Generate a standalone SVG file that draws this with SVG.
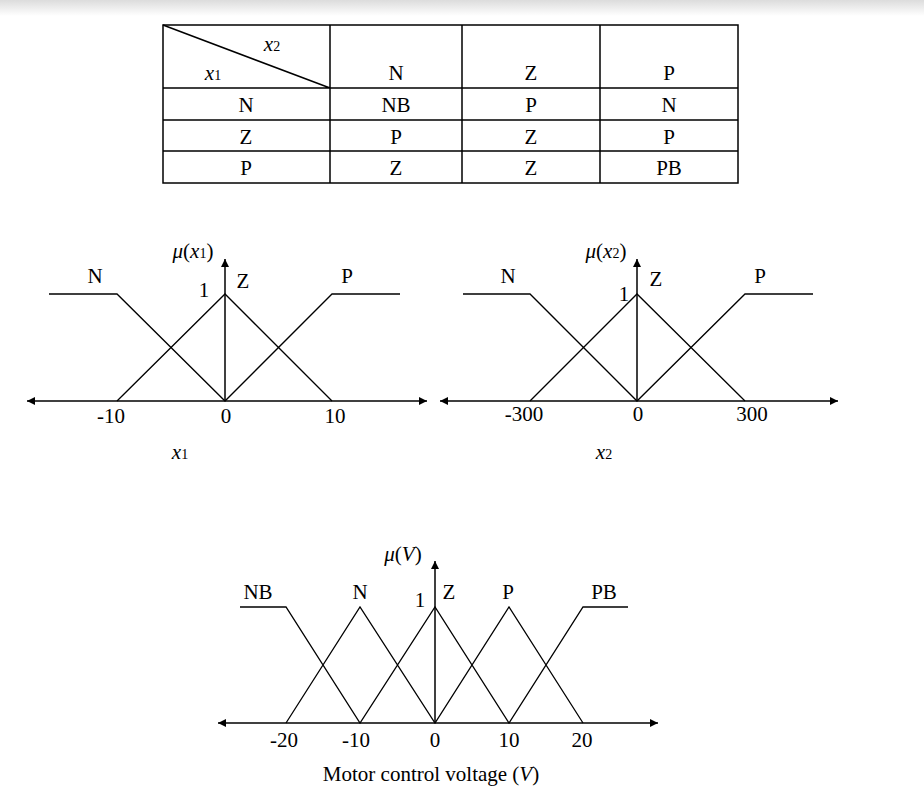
<svg xmlns="http://www.w3.org/2000/svg" width="924" height="797" viewBox="0 0 924 797">
<defs>
<linearGradient id="g" x1="0" y1="0" x2="0" y2="1"><stop offset="0" stop-color="#dcdcdc"/><stop offset="1" stop-color="#fff"/></linearGradient>
<marker id="a" viewBox="0 0 10 10" refX="10" refY="5" markerWidth="8" markerHeight="8" orient="auto-start-reverse" markerUnits="userSpaceOnUse"><path d="M0,0 L10,5 L0,10 Z" fill="#000"/></marker>
<style>
text{font-family:"Liberation Serif",serif;font-size:21px;fill:#000;text-anchor:middle}
.l{fill:none;stroke:#000;stroke-width:1.3}
.ax{fill:none;stroke:#000;stroke-width:1.5}
.i{font-style:italic}
</style>
</defs>
<rect width="924" height="797" fill="#fff"/>
<rect width="924" height="16" fill="url(#g)"/>
<g id="table">
<rect x="163" y="25" width="575" height="158" class="ax"/>
<path class="ax" d="M330,25V183M462,25V183M600,25V183M163,88H738M163,120H738M163,151H738M163,25L330,88"/>
<text x="272" y="51" class="i">x<tspan font-size="14" font-style="normal">2</tspan></text>
<text x="213" y="80" class="i">x<tspan font-size="14" font-style="normal">1</tspan></text>
<text x="396" y="80">N</text><text x="531" y="80">Z</text><text x="669" y="80">P</text>
<text x="246" y="112">N</text><text x="396" y="112">NB</text><text x="531" y="112">P</text><text x="669" y="112">N</text>
<text x="246" y="144">Z</text><text x="396" y="144">P</text><text x="531" y="144">Z</text><text x="669" y="144">P</text>
<text x="246" y="175">P</text><text x="396" y="175">Z</text><text x="531" y="175">Z</text><text x="669" y="175">PB</text>
</g>
<g id="chart1">
<line class="ax" x1="225" y1="401" x2="27" y2="401" marker-end="url(#a)"/>
<line class="ax" x1="225" y1="401" x2="427" y2="401" marker-end="url(#a)"/>
<line class="ax" x1="225" y1="401" x2="225" y2="259" marker-end="url(#a)"/>
<path class="l" d="M49,294H117L225,401L332,294H400M117,401L225,294L332,401"/>
<text x="193" y="258"><tspan class="i">μ</tspan>(<tspan class="i">x</tspan><tspan font-size="14">1</tspan>)</text>
<text x="95" y="283">N</text><text x="243" y="288">Z</text><text x="347" y="283">P</text><text x="204" y="297">1</text>
<text x="111" y="423">-10</text><text x="226" y="423">0</text><text x="335" y="423">10</text>
<text x="180" y="459" class="i">x<tspan font-size="14" font-style="normal">1</tspan></text>
</g>
<g id="chart2">
<line class="ax" x1="637" y1="401" x2="440" y2="401" marker-end="url(#a)"/>
<line class="ax" x1="637" y1="401" x2="838" y2="401" marker-end="url(#a)"/>
<line class="ax" x1="637" y1="401" x2="637" y2="259" marker-end="url(#a)"/>
<path class="l" d="M463,294H530L637,401L745,294H813M530,401L637,294L745,401"/>
<text x="606" y="258"><tspan class="i">μ</tspan>(<tspan class="i">x</tspan><tspan font-size="14">2</tspan>)</text>
<text x="508" y="283">N</text><text x="656" y="286">Z</text><text x="760" y="283">P</text><text x="624" y="301">1</text>
<text x="524" y="421">-300</text><text x="638" y="421">0</text><text x="752" y="421">300</text>
<text x="604" y="459" class="i">x<tspan font-size="14" font-style="normal">2</tspan></text>
</g>
<g id="chart3">
<line class="ax" x1="435" y1="723" x2="218" y2="723" marker-end="url(#a)"/>
<line class="ax" x1="435" y1="723" x2="658" y2="723" marker-end="url(#a)"/>
<line class="ax" x1="435" y1="723" x2="435" y2="561" marker-end="url(#a)"/>
<path class="l" d="M240,607H286L360,723L435,607L509,723L583,607H628M286,723L360,607L435,723L509,607L583,723M360,723L435,607L509,723"/>
<text x="403" y="561"><tspan class="i">μ</tspan>(<tspan class="i">V</tspan>)</text>
<text x="258" y="599">NB</text><text x="360" y="599">N</text><text x="449" y="599">Z</text><text x="508" y="599">P</text><text x="604" y="599">PB</text><text x="420" y="607">1</text>
<text x="284" y="747">-20</text><text x="356" y="747">-10</text><text x="435" y="747">0</text><text x="509" y="747">10</text><text x="582" y="747">20</text>
<text x="431" y="781">Motor control voltage (<tspan class="i">V</tspan>)</text>
</g>
</svg>
